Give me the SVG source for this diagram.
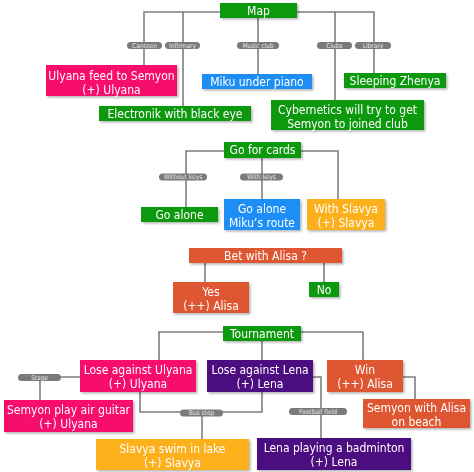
<svg xmlns="http://www.w3.org/2000/svg" width="474" height="472" viewBox="0 0 474 472">
<defs>
<filter id="sh" x="-10%" y="-20%" width="130%" height="150%">
<feDropShadow dx="1.5" dy="1.5" stdDeviation="0.8" flood-color="#000" flood-opacity="0.3"/>
</filter>
</defs>
<style>
.n{filter:url(#sh)}
.g{fill:#0d990d}
.m{fill:#f7086c}
.b{fill:#1c8ef5}
.o{fill:#fcb01e}
.r{fill:#df5630}
.p{fill:#4c097f}
.t{font-family:"DejaVu Sans Condensed","DejaVu Sans",sans-serif;font-stretch:condensed;font-size:12px;fill:#fff;text-anchor:middle}
.c{fill:none;stroke:#7f7f7f;stroke-width:1.6}
.pl{fill:#7a7a7a}
.lt{font-family:"DejaVu Sans Condensed","DejaVu Sans",sans-serif;font-stretch:condensed;font-size:6.6px;fill:#e6e6e6;text-anchor:middle}
</style>
<rect width="474" height="472" fill="#fff"/>
<g id="connectors">
<path class="c" d="M144,65 V12 H374 V73 M183,12 V106 M258,12 V74 M335,12 V100"/>
<path class="c" d="M186,207 V151 H338 V199 M262,151 V199"/>
<path class="c" d="M205,256 V282 M324,256 V282"/>
<path class="c" d="M159,360 V332 H363 V360 M262,332 V360"/>
<path class="c" d="M80,377 H40 V400"/>
<path class="c" d="M140,392 V412 H262 V392 M202,412 V439"/>
<path class="c" d="M313,377 H321 V438"/>
<path class="c" d="M403,377 H415 V399"/>
<g id="labels">
<rect class="pl" x="127" y="42" width="35" height="7" rx="3.5"/><text class="lt" x="144.5" y="47.8">Canteen</text>
<rect class="pl" x="165" y="42" width="35" height="7" rx="3.5"/><text class="lt" x="182.5" y="47.8">Infirmary</text>
<rect class="pl" x="237" y="42" width="42" height="7" rx="3.5"/><text class="lt" x="258" y="47.8">Music club</text>
<rect class="pl" x="317" y="42" width="35" height="7" rx="3.5"/><text class="lt" x="334.5" y="47.8">Clubs</text>
<rect class="pl" x="355" y="42" width="36" height="7" rx="3.5"/><text class="lt" x="373" y="47.8">Library</text>
<rect class="pl" x="159" y="173.5" width="48" height="7" rx="3.5"/><text class="lt" x="183" y="179.3">Without keys</text>
<rect class="pl" x="240" y="173.5" width="43" height="7" rx="3.5"/><text class="lt" x="261.5" y="179.3">With keys</text>
<rect class="pl" x="18" y="374" width="43" height="7" rx="3.5"/><text class="lt" x="39.5" y="379.8">Stage</text>
<rect class="pl" x="180" y="409.5" width="43" height="7" rx="3.5"/><text class="lt" x="201.5" y="415.3">Bus stop</text>
<rect class="pl" x="289" y="408" width="58" height="7" rx="3.5"/><text class="lt" x="318" y="413.8">Football field</text>
</g>
</g>
<g id="map" class="n"><rect class="g" x="220" y="3" width="77" height="15"/><text class="t" x="258.5" y="14.9">Map</text></g>
<g id="ulyana-feed" class="n"><rect class="m" x="46" y="65" width="131" height="31"/><text class="t" x="111.5" y="79.5">Ulyana feed to Semyon</text><text class="t" x="111.5" y="93.5">(+) Ulyana</text></g>
<g id="electronik" class="n"><rect class="g" x="99" y="106" width="152" height="15"/><text class="t" x="175" y="117.9">Electronik with black eye</text></g>
<g id="miku-piano" class="n"><rect class="b" x="202" y="74" width="110" height="15"/><text class="t" x="257" y="85.9">Miku under piano</text></g>
<g id="zhenya" class="n"><rect class="g" x="344" y="73" width="102" height="15"/><text class="t" x="395" y="84.9">Sleeping Zhenya</text></g>
<g id="cybernetics" class="n"><rect class="g" x="271" y="100" width="153" height="30"/><text class="t" x="347.5" y="113.8">Cybernetics will try to get</text><text class="t" x="347.5" y="127.6">Semyon to joined club</text></g>
<g id="cards" class="n"><rect class="g" x="224" y="142" width="77" height="16"/><text class="t" x="262.5" y="154.4">Go for cards</text></g>
<g id="go-alone" class="n"><rect class="g" x="141" y="207" width="77" height="15"/><text class="t" x="179.5" y="218.9">Go alone</text></g>
<g id="go-alone-miku" class="n"><rect class="b" x="224" y="199" width="76" height="31"/><text class="t" x="262" y="212.5">Go alone</text><text class="t" x="262" y="226.5">Miku’s route</text></g>
<g id="with-slavya" class="n"><rect class="o" x="307" y="199" width="78" height="31"/><text class="t" x="346" y="212.5">With Slavya</text><text class="t" x="346" y="226.5">(+) Slavya</text></g>
<g id="bet" class="n"><rect class="r" x="189" y="248" width="153" height="15"/><text class="t" x="265.5" y="259.9">Bet with Alisa ?</text></g>
<g id="yes" class="n"><rect class="r" x="173" y="282" width="76" height="31"/><text class="t" x="211" y="295.5">Yes</text><text class="t" x="211" y="309.5">(++) Alisa</text></g>
<g id="no" class="n"><rect class="g" x="309" y="282" width="30" height="15"/><text class="t" x="324" y="293.9">No</text></g>
<g id="tournament" class="n"><rect class="g" x="223" y="326" width="78" height="15"/><text class="t" x="262" y="337.9">Tournament</text></g>
<g id="lose-ulyana" class="n"><rect class="m" x="80" y="360" width="116" height="32"/><text class="t" x="138" y="373.5">Lose against Ulyana</text><text class="t" x="138" y="387.5">(+) Ulyana</text></g>
<g id="lose-lena" class="n"><rect class="p" x="207" y="360" width="106" height="32"/><text class="t" x="260" y="373.5">Lose against Lena</text><text class="t" x="260" y="387.5">(+) Lena</text></g>
<g id="win" class="n"><rect class="r" x="327" y="360" width="76" height="32"/><text class="t" x="365" y="373.5">Win</text><text class="t" x="365" y="387.5">(++) Alisa</text></g>
<g id="air-guitar" class="n"><rect class="m" x="4" y="400" width="129" height="32"/><text class="t" x="68.5" y="413.5">Semyon play air guitar</text><text class="t" x="68.5" y="427.5">(+) Ulyana</text></g>
<g id="slavya-lake" class="n"><rect class="o" x="96" y="439" width="153" height="31"/><text class="t" x="172.5" y="452.5">Slavya swim in lake</text><text class="t" x="172.5" y="466.5">(+) Slavya</text></g>
<g id="lena-badminton" class="n"><rect class="p" x="257" y="438" width="154" height="32"/><text class="t" x="334" y="451.5">Lena playing a badminton</text><text class="t" x="334" y="465.5">(+) Lena</text></g>
<g id="alisa-beach" class="n"><rect class="r" x="363" y="399" width="107" height="29"/><text class="t" x="416.5" y="412">Semyon with Alisa</text><text class="t" x="416.5" y="425.8">on beach</text></g>
</svg>
